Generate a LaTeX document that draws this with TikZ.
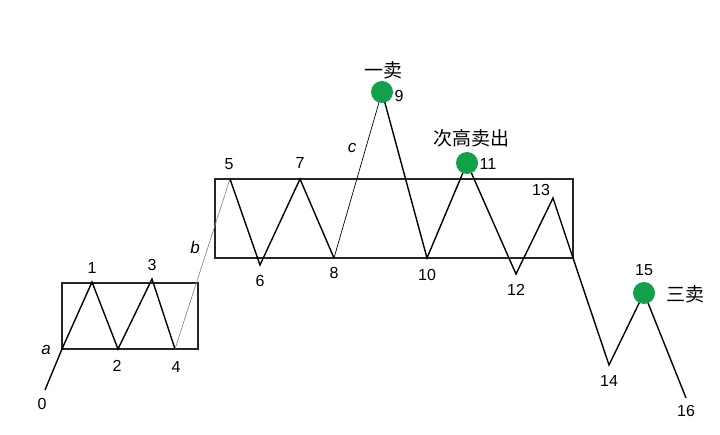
\documentclass[tikz,border=0pt]{standalone}
\usepackage{fontspec}
\setmainfont{Liberation Sans}
\newfontfamily\cjk{Noto Sans CJK SC}
\definecolor{sig}{RGB}{18,160,74}
\begin{document}
\begin{tikzpicture}[x=1pt,y=-1pt,
  pt/.style={coordinate},
  lab/.style={font=\fontsize{16}{18}\selectfont, inner sep=0pt},
  ital/.style={font=\fontsize{17}{19}\selectfont\itshape, inner sep=0pt},
  cn/.style={font=\fontsize{19}{21}\selectfont\cjk, inner sep=0pt},
  boxline/.style={draw=black!85, line width=1.1pt},
  wave/.style={black, line width=1.4pt, line join=miter},
  thin/.style={black, line width=0.7pt},
  faint/.style={black!50, line width=0.6pt},
  dot/.style={circle, fill=sig, minimum size=22pt, inner sep=0pt}]
\useasboundingbox (0,0) rectangle (720,435);
% boxes
\node[pt] (b1a) at (62,283) {};
\node[pt] (b1b) at (198,349) {};
\node[pt] (b2a) at (215,179) {};
\node[pt] (b2b) at (573,258) {};
\draw[boxline] (b1a) rectangle (b1b);
\draw[boxline] (b2a) rectangle (b2b);
% points
\node[pt] (p0) at (45,390) {};
\node[pt] (pa) at (62,349) {};
\node[pt] (p1) at (92,282) {};
\node[pt] (p2) at (118,349) {};
\node[pt] (p3) at (152,279) {};
\node[pt] (p4) at (175,349) {};
\node[pt] (p5) at (230,179) {};
\node[pt] (p6) at (260,265) {};
\node[pt] (p7) at (300,179) {};
\node[pt] (p8) at (334,258) {};
\node[pt] (p9) at (382,92) {};
\node[pt] (p10) at (427,258) {};
\node[pt] (p11) at (467,163) {};
\node[pt] (p12) at (516,274) {};
\node[pt] (p13) at (553,198) {};
\node[pt] (pr) at (573,258) {};
\node[pt] (p14) at (609,365) {};
\node[pt] (p15) at (644,293) {};
\node[pt] (p16) at (686,398) {};
% wave
\draw[wave] (p0) -- (pa) -- (p1) -- (p2) -- (p3) -- (p4);
\draw[faint] (p4) -- (p5);
\draw[wave] (p5) -- (p6) -- (p7) -- (p8);
\draw[thin] (p8) -- (p9);
\draw[wave] (p9) -- (p10) -- (p11) -- (p12) -- (p13) -- (pr) -- (p14) -- (p15) -- (p16);
% signal dots
\node[dot] (d9) at (p9) {};
\node[dot] (d11) at (p11) {};
\node[dot] (d15) at (p15) {};
% labels
\node[lab] (l0) at (42,404) {0};
\node[ital] (la) at (46,350) {a};
\node[lab] (l1) at (92,268) {1};
\node[lab] (l2) at (117,366) {2};
\node[lab] (l3) at (152,265) {3};
\node[lab] (l4) at (176,367) {4};
\node[ital] (lb) at (195,247) {b};
\node[lab] (l5) at (229,164) {5};
\node[lab] (l6) at (260,281) {6};
\node[lab] (l7) at (300,163) {7};
\node[lab] (l8) at (334,273) {8};
\node[ital] (lc) at (352,148) {c};
\node[lab] (l9) at (399,96) {9};
\node[cn] (s1) at (383,70) {一卖};
\node[lab] (l10) at (427,275) {10};
\node[cn] (s2) at (471,138) {次高卖出};
\node[lab] (l11) at (488,164) {11};
\node[lab] (l12) at (516,290) {12};
\node[lab] (l13) at (541,190) {13};
\node[lab] (l14) at (609,381) {14};
\node[lab] (l15) at (644,270) {15};
\node[cn] (s3) at (685,294) {三卖};
\node[lab] (l16) at (686,411) {16};
\end{tikzpicture}
\end{document}
